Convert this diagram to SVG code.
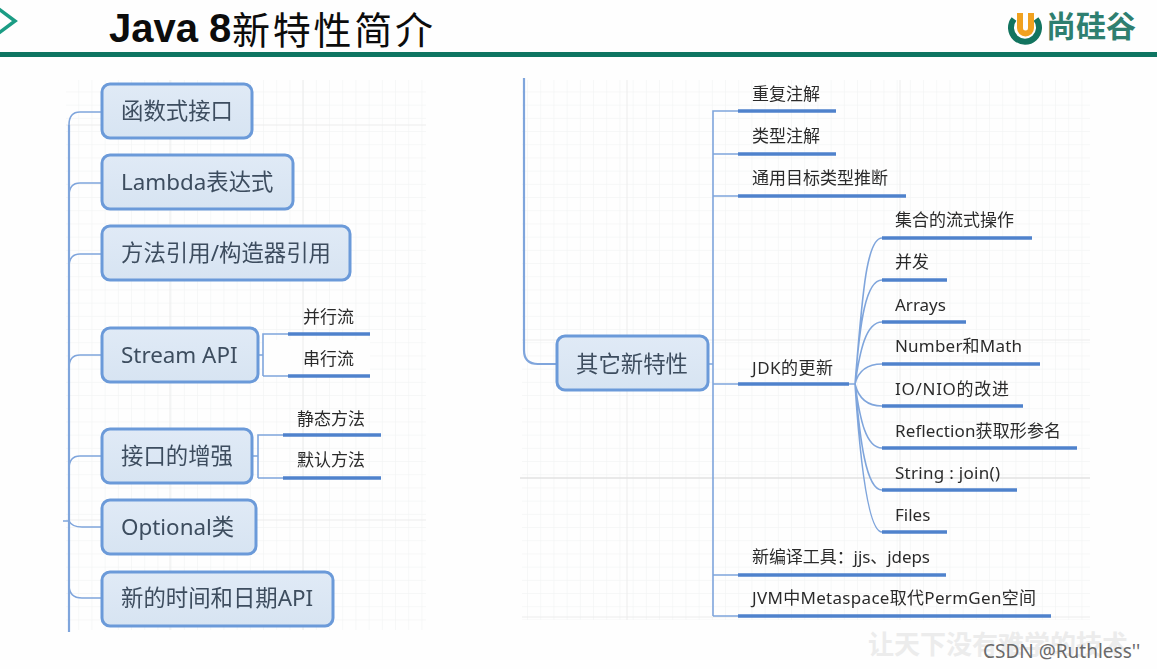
<svg xmlns="http://www.w3.org/2000/svg" width="1157" height="669" viewBox="0 0 1157 669">
<style>
.n{fill:url(#box);stroke:#6b9ad9;stroke-width:3}
.t{font-family:"Noto Sans","Noto Sans CJK SC",sans-serif;font-size:22.4px;fill:#3d4d5f}
.s{font-family:"Noto Sans","Noto Sans CJK SC",sans-serif;font-size:17px;fill:#2c2c2c}
.u{stroke:#4f82cc;stroke-width:3.5;fill:none}
.c{stroke:#7fa5dc;stroke-width:1.6;fill:none}
.k{stroke:#7fa5dc;stroke-width:2.2;fill:none}
</style>
<defs>
<linearGradient id="box" x1="0" y1="0" x2="0" y2="1"><stop offset="0" stop-color="#e0eaf6"/><stop offset="1" stop-color="#d7e4f2"/></linearGradient>
<pattern id="grid" width="13.2" height="13.2" patternUnits="userSpaceOnUse"><path d="M13 0V13.2M0 13H13.2" fill="none" stroke="#f3f5f5" stroke-width="1"/></pattern>
<filter id="soft" x="-5%" y="-20%" width="110%" height="140%"><feGaussianBlur stdDeviation="0.45"/></filter>
</defs>
<rect width="1157" height="669" fill="#fefefe"/>
<g id="background-grid" stroke="#ececec" stroke-width="1">
<rect x="66" y="80" width="360" height="550" fill="url(#grid)" stroke="none"/>
<rect x="522" y="80" width="568" height="540" fill="url(#grid)" stroke="none"/>
<rect x="262" y="340" width="108" height="36" fill="#fefefe" stroke="none"/>
<path d="M66 125H426M66 520H426M170 80V630M303 80V630M522 340H1090M522 617H1090M627 80V620M900 80V620" fill="none"/>
<path d="M520 478H1090" fill="none" stroke="#e2e2e2" stroke-width="1.5"/>
</g>
<g id="header">
<path d="M-4 7L15 21L-4 35" fill="none" stroke="#1b9c84" stroke-width="3.5"/>
<text x="109" y="42" font-family="'Liberation Sans','Noto Sans CJK SC',sans-serif" font-size="40" font-weight="700" fill="#0c0c0c">Java 8</text>
<text x="232" y="44.2" font-family="'Noto Sans CJK SC',sans-serif" font-size="38" fill="#0c0c0c" textLength="201">新特性简介</text>
<rect x="0" y="52" width="1157" height="5" fill="#0e7562"/>
</g>
<g id="logo">
<path d="M1014 19A14 14 0 1 0 1036 19" fill="none" stroke="#12745f" stroke-width="6"/>
<path d="M1020 13V28A5 5 0 0 0 1031 28V13" fill="none" stroke="#f0a11f" stroke-width="6"/>
<text x="1046" y="37" font-family="'Noto Sans CJK SC',sans-serif" font-size="30" font-weight="700" fill="#2e7f70">尚硅谷</text>
</g>
<g id="connectors">
<path class="k" d="M69 125V632"/>
<path class="c" d="M102 112H80Q69 112 69 125M102 183H80Q69 183 69 196M102 254H80Q69 254 69 267M102 355H80Q69 355 69 368M102 456H80Q69 456 69 469M63 521H69Q72 527 82 527H102M69 585Q69 598 82 598H102"/>
<path class="c" d="M258 355H263M263 376V334H289M263 376H289M252 456H258M258 478V435H283M258 478H283"/>
<path class="k" d="M524 78V350Q524 364 538 364H557"/>
<path class="c" d="M708 364H713M713 616V111H738M713 154H738M713 196H738M713 384H738M713 575H738M713 616H738"/>
<path class="c" stroke-linecap="round" d="M849 384H855"/>
<path class="c" d="M855 384C862 300 866 238 882 238M855 384C860 320 866 280 882 280M855 384C860 350 866 322 882 322M855 384C858 372 866 364 882 364M855 384C858 396 866 406 882 406M855 384C860 420 866 448 882 448M855 384C860 440 866 490 882 490M855 384C860 460 868 532 882 532"/>
</g>
<g id="node-functional"><rect class="n" x="102" y="84" width="150" height="54" rx="8"/><text class="t" x="121" y="119" filter="url(#soft)">函数式接口</text></g>
<g id="node-lambda"><rect class="n" x="102" y="155" width="191" height="54" rx="8"/><text class="t" x="121" y="190" filter="url(#soft)">Lambda表达式</text></g>
<g id="node-methodref"><rect class="n" x="102" y="226" width="248" height="54" rx="8"/><text class="t" x="121" y="261" filter="url(#soft)" textLength="210">方法引用/构造器引用</text></g>
<g id="node-stream"><rect class="n" x="102" y="328" width="156" height="54" rx="8"/><text class="t" x="121" y="363" filter="url(#soft)">Stream API</text></g>
<g id="node-interface"><rect class="n" x="102" y="429" width="150" height="54" rx="8"/><text class="t" x="121" y="464" filter="url(#soft)">接口的增强</text></g>
<g id="node-optional"><rect class="n" x="102" y="500" width="154" height="54" rx="8"/><text class="t" x="121" y="535" filter="url(#soft)">Optional类</text></g>
<g id="node-datetime"><rect class="n" x="102" y="572" width="231" height="54" rx="8"/><text class="t" x="121" y="606" filter="url(#soft)">新的时间和日期API</text></g>
<g id="leaf-parallel"><path class="u" d="M288 334H370"/><text class="s" x="303" y="323" filter="url(#soft)">并行流</text></g>
<g id="leaf-serial"><path class="u" d="M288 376H370"/><text class="s" x="303" y="365" filter="url(#soft)">串行流</text></g>
<g id="leaf-static"><path class="u" d="M283 435H381"/><text class="s" x="297" y="425" filter="url(#soft)">静态方法</text></g>
<g id="leaf-default"><path class="u" d="M283 478H381"/><text class="s" x="297" y="466" filter="url(#soft)">默认方法</text></g>
<g id="node-other"><rect class="n" x="557" y="336" width="151" height="54" rx="8"/><text class="t" x="576" y="372" filter="url(#soft)">其它新特性</text></g>
<g id="leaf-repeat"><path class="u" d="M738 111H836"/><text class="s" x="752" y="100" filter="url(#soft)">重复注解</text></g>
<g id="leaf-type"><path class="u" d="M738 154H836"/><text class="s" x="752" y="142" filter="url(#soft)">类型注解</text></g>
<g id="leaf-inference"><path class="u" d="M738 196H906"/><text class="s" x="752" y="184" filter="url(#soft)">通用目标类型推断</text></g>
<g id="leaf-jdk"><path class="u" d="M738 384H849"/><text class="s" x="752" y="374" filter="url(#soft)" textLength="81">JDK的更新</text></g>
<g id="leaf-collection"><path class="u" d="M882 238H1032"/><text class="s" x="895" y="226" filter="url(#soft)">集合的流式操作</text></g>
<g id="leaf-concurrent"><path class="u" d="M882 280H947"/><text class="s" x="895" y="268" filter="url(#soft)">并发</text></g>
<g id="leaf-arrays"><path class="u" d="M882 322H966"/><text class="s" x="895" y="311" filter="url(#soft)">Arrays</text></g>
<g id="leaf-number"><path class="u" d="M882 364H1040"/><text class="s" x="895" y="352" filter="url(#soft)" textLength="127">Number和Math</text></g>
<g id="leaf-io"><path class="u" d="M882 406H1023"/><text class="s" x="895" y="395" filter="url(#soft)" textLength="114">IO/NIO的改进</text></g>
<g id="leaf-reflection"><path class="u" d="M882 448H1077"/><text class="s" x="895" y="437" filter="url(#soft)" textLength="166">Reflection获取形参名</text></g>
<g id="leaf-string"><path class="u" d="M882 490H1017"/><text class="s" x="895" y="479" filter="url(#soft)" textLength="105">String : join()</text></g>
<g id="leaf-files"><path class="u" d="M882 532H947"/><text class="s" x="895" y="521" filter="url(#soft)">Files</text></g>
<g id="leaf-jjs"><path class="u" d="M738 575H946"/><text class="s" x="752" y="563" filter="url(#soft)" textLength="178">新编译工具：jjs、jdeps</text></g>
<g id="leaf-metaspace"><path class="u" d="M738 616H1051"/><text class="s" x="752" y="604" filter="url(#soft)" textLength="284">JVM中Metaspace取代PermGen空间</text></g>
<text id="slogan" x="868" y="654" font-family="'Noto Sans CJK SC',serif" font-size="26" font-weight="700" fill="#ececec">让天下没有难学的技术</text>
<text id="credit" x="983" y="658" font-family="'Noto Sans',sans-serif" font-size="19" fill="#6a6a6a">CSDN @Ruthless''</text>
</svg>
